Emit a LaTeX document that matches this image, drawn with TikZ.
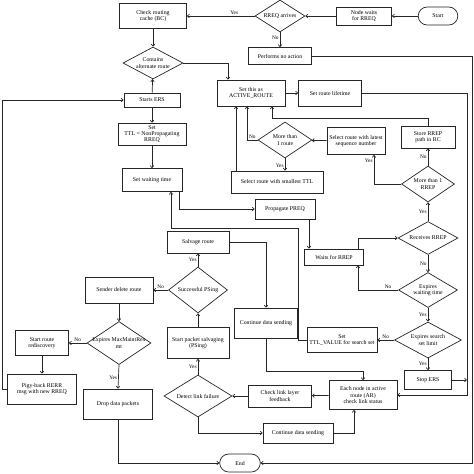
\documentclass[tikz,border=0pt]{standalone}
\usepackage{fontspec}
\setmainfont{Liberation Serif}
\usetikzlibrary{arrows.meta,positioning,calc,shapes.geometric,shapes.misc}

\begin{document}
\begin{tikzpicture}[x=0.05cm,y=-0.05cm,
    font=\fontsize{8.3}{9}\selectfont,
    box/.style={draw=black!85, line width=1pt, rectangle, align=center, inner sep=1pt},
    term/.style={draw=black!85, line width=1pt, rounded rectangle, inner sep=1pt},
    dia/.style={draw=black!85, line width=1pt, diamond, inner sep=0pt},
    dtext/.style={align=center, inner sep=0pt},
    arr/.style={draw=black!85, line width=1pt, -{Straight Barb[length=2.8pt,width=5pt]}},
    lbl/.style={font=\fontsize{7.6}{8.4}\selectfont, inner sep=1.5pt}]
  \useasboundingbox (0,0) rectangle (474,474);

  % top row
  \node[term, minimum width=2.05cm, minimum height=0.9cm] (start) at (438,16) {Start};
  \node[box, minimum width=2.75cm, minimum height=0.9cm] (waits) at (364,16) {Node waits\\for RREQ};
  \node[dia, minimum width=2.5cm, minimum height=1.6cm,
        label={[dtext]center:RREQ arrives}] (rreq) at (280,16) {};
  \node[box, minimum width=3.15cm, minimum height=0.85cm] (noact) at (280,56) {Performs no action};
  \node[box, minimum width=3.35cm, minimum height=1.25cm] (check) at (153,16) {Check routing\\cache (BC)};

  % left column
  \node[dia, minimum width=3.0cm, minimum height=1.6cm,
        label={[dtext]center:Contains\\alternate route}] (contains) at (153,63) {};
  \node[box, minimum width=2.8cm, minimum height=0.7cm] (ers) at (152,100) {Starts ERS};
  \node[box, minimum width=3.4cm, minimum height=1.1cm] (setttl) at (152,134) {Set\\TTL = NonPropagating\\RREQ};
  \node[box, minimum width=3.0cm, minimum height=1.15cm] (waittime) at (152,180) {Set waiting time};

  % route selection
  \node[box, minimum width=3.4cm, minimum height=1.3cm] (active) at (251,93) {Set this as\\ACTIVE\_ROUTE};
  \node[box, minimum width=3.15cm, minimum height=1.3cm] (lifetime) at (330,93) {Set route lifetime};
  \node[dia, minimum width=2.7cm, minimum height=1.8cm,
        label={[dtext]center:More than\\1 route}] (morert) at (285,140) {};
  \node[box, minimum width=2.9cm, minimum height=1.35cm] (latest) at (356,141) {Select route with latest\\sequence number};
  \node[box, minimum width=2.7cm, minimum height=1.1cm] (store) at (428,137) {Store RREP\\path in RC};
  \node[box, minimum width=4.6cm, minimum height=1.1cm] (smallest) at (277,182) {Select route with smallest TTL};
  \node[dia, minimum width=2.65cm, minimum height=1.8cm,
        label={[dtext]center:More than 1\\RREP}] (morerrep) at (428,184) {};
  \node[box, minimum width=3.0cm, minimum height=1.0cm] (propagate) at (285,209) {Propagate PREQ};
  \node[dia, minimum width=3.0cm, minimum height=1.65cm,
        label={[dtext]center:Receives RREP}] (receives) at (428,238) {};
  \node[box, minimum width=2.95cm, minimum height=0.8cm] (waitsrrep) at (334,257) {Waits for RREP};
  \node[dia, minimum width=2.95cm, minimum height=1.75cm,
        label={[dtext]center:Expires\\waiting time}] (expwait) at (428,290) {};
  \node[box, minimum width=3.5cm, minimum height=1.25cm] (ttlvalue) at (342,340) {Set\\TTL\_VALUE for search set};
  \node[dia, minimum width=3.35cm, minimum height=1.8cm,
        label={[dtext]center:Expires search\\set limit}] (expsearch) at (428,340) {};
  \node[box, minimum width=2.35cm, minimum height=0.95cm] (stoperrs) at (428,380) {Stop ERS};

  % maintenance
  \node[box, minimum width=3.1cm, minimum height=1.1cm] (salvage) at (198,242) {Salvage route};
  \node[dia, minimum width=2.95cm, minimum height=2.3cm,
        label={[dtext]center:Successful PSing}] (success) at (198,290) {};
  \node[box, minimum width=3.4cm, minimum height=1.3cm] (sender) at (119,290) {Sender delete route};
  \node[box, minimum width=3.15cm, minimum height=1.5cm] (contsend) at (266,323) {Continue data sending};
  \node[dia, minimum width=3.2cm, minimum height=2.15cm,
        label={[dtext]center:Expires MaxMaintRex\\mt}] (maxmaint) at (119,343) {};
  \node[box, minimum width=2.65cm, minimum height=1.25cm] (rediscover) at (42,343) {Start route\\rediscovery};
  \node[box, minimum width=3.1cm, minimum height=1.55cm] (psing) at (198,343) {Start packet salvaging\\(PSing)};
  \node[box, minimum width=3.45cm, minimum height=1.5cm] (piggy) at (42,389) {Pigy-back RERR\\msg with new RREQ};
  \node[box, minimum width=3.4cm, minimum height=1.45cm] (eachnode) at (363,395) {Each node in active\\route (AR)\\check link status};
  \node[box, minimum width=3.15cm, minimum height=1.1cm] (linklayer) at (280,396) {Check link layer\\feedback};
  \node[dia, minimum width=3.4cm, minimum height=2.1cm,
        label={[dtext]center:Detect link failure}] (detect) at (198,396) {};
  \node[box, minimum width=3.45cm, minimum height=1.5cm] (drop) at (118,404) {Drop data packets};
  \node[box, minimum width=3.5cm, minimum height=1.0cm] (contsend2) at (298,433) {Continue data sending};
  \node[term, minimum width=2.1cm, minimum height=0.9cm] (endn) at (240,463) {End};

  % bend points
  \coordinate (altx) at (228,0);
  \coordinate (ttlx) at (236,0);
  \coordinate (onex) at (247,0);
  \coordinate (storex) at (272,0);
  \coordinate (storey) at (0,118);
  \coordinate (seqx) at (374,0);
  \coordinate (rrepx) at (358,0);
  \coordinate (propx) at (309,0);
  \coordinate (backx) at (171,0);
  \coordinate (backy) at (0,228);
  \coordinate (setx) at (298,0);
  \coordinate (fwdx) at (179,0);
  \coordinate (lossx) at (354,0);
  \coordinate (sendy) at (0,371);
  \coordinate (rightx) at (467,0);
  \coordinate (edgex) at (472,0);
  \coordinate (leftx) at (2,0);

  % discovery
  \draw[arr] (start) -- (waits);
  \draw[arr] (waits) -- (rreq);
  \draw[arr] (rreq.west) -- node[lbl, above, pos=0.3] {Yes} (check.east);
  \draw[arr] (rreq.south) -- node[lbl, left, pos=0.4] {No} (noact.north);
  \draw[arr] (noact.east) -- (edgex |- noact.east) -- (edgex |- endn.east) -- (endn.east);
  \draw[arr] (check) -- (contains);
  \draw[arr] (ers) -- (contains);
  \draw[arr] (contains.east) -- (altx |- contains.east) -- (altx |- active.north);
  \draw[arr] (ers) -- (setttl);
  \draw[arr] (setttl) -- (waittime);
  \draw[arr] (piggy.west) -- (leftx |- piggy.west) -- (leftx |- ers.west) -- (ers.west);
  \draw[arr] (active) -- (lifetime);
  \draw[arr] (lifetime.east) -- (rightx |- lifetime.east) -- (rightx |- eachnode.east) -- (eachnode.east);
  \draw[arr] (morert.west) -- node[lbl, above] {No} (onex |- morert.west) -- (onex |- active.south);
  \draw[arr] (morert.south) -- node[lbl, left, pos=0.6] {Yes} (morert.south |- smallest.north);
  \draw[arr] (ttlx |- smallest.north) -- (ttlx |- active.south);
  \draw[arr] (latest) -- (morert);
  \draw[arr] (store.north) -- (store.north |- storey) -- (storex |- storey) -- (storex |- active.south);
  \draw[arr] (morerrep.north) -- node[lbl, left] {No} (store.south);
  \draw[arr] (morerrep.west) -- (seqx |- morerrep.west) -- node[lbl, left, pos=0.8] {Yes} (seqx |- latest.south);
  \draw[arr] (receives.north) -- node[lbl, left] {Yes} (morerrep.south);
  \draw[arr] (rrepx |- waitsrrep.north) -- (rrepx |- receives.west) -- (receives.west);
  \draw[arr] (receives.south) -- node[lbl, left] {No} (expwait.north);
  \draw[arr] (expwait.west) -- node[lbl, above, pos=0.25] {No} (rrepx |- expwait.west) -- (rrepx |- waitsrrep.south);
  \draw[arr] (expwait.south) -- node[lbl, left] {Yes} (expsearch.north);
  \draw[arr] (expsearch.west) -- node[lbl, above] {No} (ttlvalue.east);
  \draw[arr] (expsearch.south) -- node[lbl, left] {Yes} (stoperrs.north);
  \draw[arr] (stoperrs.east) -- (rightx |- stoperrs.east);
  \draw[arr] (ttlvalue.west) -- (setx |- ttlvalue.west) -- (setx |- backy) -- (backx |- backy) -- (backx |- waittime.south);
  \draw[arr] (fwdx |- waittime.south) -- (fwdx |- propagate.west) -- (propagate.west);
  \draw[arr] (propx |- propagate.south) -- (propx |- waitsrrep.north);

  % maintenance
  \draw[arr] (salvage.east) -- (contsend.north |- salvage.east) -- (contsend.north);
  \draw[arr] (contsend.south) -- (contsend.south |- sendy) -- (eachnode.north |- sendy) -- (eachnode.north);
  \draw[arr] (eachnode) -- (linklayer);
  \draw[arr] (linklayer) -- (detect);
  \draw[arr] (detect.north) -- node[lbl, left] {Yes} (psing.south);
  \draw[arr] (psing) -- (success);
  \draw[arr] (success.north) -- node[lbl, left] {Yes} (salvage.south);
  \draw[arr] (success.west) -- node[lbl, above] {No} (sender.east);
  \draw[arr] (sender) -- (maxmaint);
  \draw[arr] (maxmaint.west) -- node[lbl, above] {No} (rediscover.east);
  \draw[arr] (maxmaint.south) -- node[lbl, left, pos=0.55] {Yes} (drop.north);
  \draw[arr] (rediscover) -- (piggy);
  \draw[arr] (drop.south) -- (drop.south |- endn.west) -- (endn.west);
  \draw[arr] (detect.south) -- (detect.south |- contsend2.west) -- (contsend2.west);
  \draw[arr] (contsend2.east) -- (lossx |- contsend2.east) -- (lossx |- eachnode.south);
\end{tikzpicture}
\end{document}
